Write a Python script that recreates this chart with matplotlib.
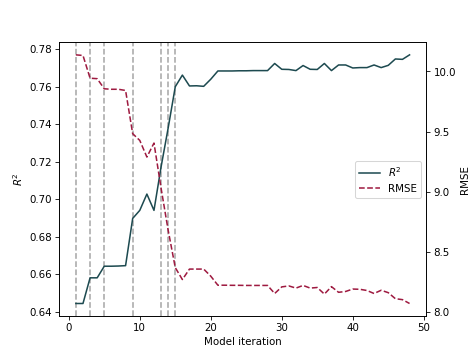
import matplotlib
matplotlib.use("Agg")
import matplotlib.pyplot as plt
import numpy as np

iterations = list(range(1, 49))
r2 = [0.6443, 0.6443, 0.6580, 0.6580, 0.6642, 0.6642, 0.6643, 0.6645, 0.6897, 0.6940,
      0.7027, 0.6940, 0.7172, 0.7380, 0.7600, 0.7662, 0.7604, 0.7605, 0.7602, 0.7640,
      0.7684, 0.7684, 0.7684, 0.7685, 0.7685, 0.7686, 0.7686, 0.7686, 0.7724, 0.7693,
      0.7692, 0.7686, 0.7713, 0.7693, 0.7692, 0.7724, 0.7686, 0.7716, 0.7716, 0.7700,
      0.7702, 0.7702, 0.7716, 0.7702, 0.7714, 0.7748, 0.7746, 0.7770]
rmse = [10.138, 10.133, 9.944, 9.940, 9.856, 9.852, 9.852, 9.842, 9.483, 9.427,
        9.289, 9.405, 9.030, 8.680, 8.370, 8.271, 8.358, 8.358, 8.358, 8.299,
        8.224, 8.224, 8.223, 8.223, 8.222, 8.222, 8.222, 8.222, 8.155, 8.210,
        8.218, 8.200, 8.222, 8.200, 8.205, 8.150, 8.212, 8.165, 8.172, 8.192,
        8.190, 8.180, 8.155, 8.182, 8.162, 8.112, 8.104, 8.072]
vline_positions = [1, 3, 5, 9, 13, 14, 15]

fig, ax1 = plt.subplots(figsize=(6.4, 4.8), dpi=74)
for xv in vline_positions:
    ax1.axvline(xv, color='#a6a6a6', linestyle='--', linewidth=1.5)
l1, = ax1.plot(iterations, r2, color='#1d4a50', linewidth=1.5, label='$R^2$')
ax1.set_xlabel('Model iteration')
ax1.set_ylabel('$R^2$')
ax1.set_xticks([0, 10, 20, 30, 40, 50])

ax2 = ax1.twinx()
l2, = ax2.plot(iterations, rmse, color='#9e1a40', linestyle='--', linewidth=1.5, label='RMSE')
ax2.set_ylabel('RMSE')

ax2.legend(handles=[l1, l2], loc='center right')
fig.savefig('out.png', dpi=74)
